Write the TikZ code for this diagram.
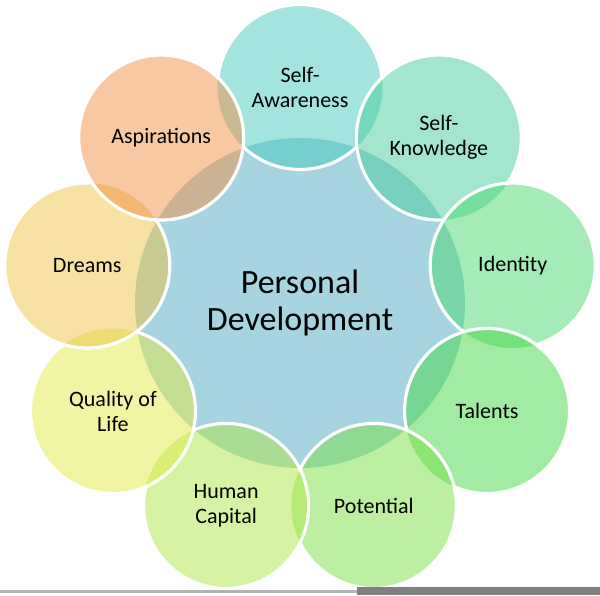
\documentclass[tikz,border=0pt]{standalone}
\usepackage{fontspec}
\setmainfont{Carlito}
\definecolor{pdBlue}{RGB}{166,212,225}
\definecolor{saCol}{RGB}{71,201,191}
\definecolor{skCol}{RGB}{71,205,155}
\definecolor{idCol}{RGB}{75,215,113}
\definecolor{taCol}{RGB}{69,215,69}
\definecolor{poCol}{RGB}{121,223,69}
\definecolor{hcCol}{RGB}{171,231,71}
\definecolor{qlCol}{RGB}{225,233,71}
\definecolor{drCol}{RGB}{239,195,71}
\definecolor{asCol}{RGB}{241,145,71}
\begin{document}
\begin{tikzpicture}[x=1pt, y=1pt,
    bubble/.style={circle, minimum size=165pt, inner sep=0pt, fill opacity=0.5, text opacity=1,
      align=center, font=\fontsize{22}{25}\selectfont},
    rim/.style={white, line width=3.2pt}]
    \useasboundingbox (0,0) rectangle (600,595);

    % 中心の円
    \node[circle, minimum size=330pt, inner sep=0pt, fill=pdBlue, align=center,
      font=\fontsize{34}{37}\selectfont] (pd) at (300,292) {Personal\\Development};

    % 周りの円
    \foreach \n/\a/\c/\t in {sa/90/saCol/{Self-\\Awareness}, sk/50/skCol/{Self-\\Knowledge},
        id/10/idCol/Identity, ta/-30/taCol/Talents, po/-70/poCol/Potential,
        hc/-110/hcCol/{Human\\Capital}, ql/-150/qlCol/{Quality of\\Life},
        dr/170/drCol/Dreams, as/130/asCol/Aspirations}
      \node[bubble, fill=\c] (\n) at ([shift={(\a:216)}]pd.center) {\t};

    % 白い縁取り
    \foreach \n/\m in {sk/id, id/ta, ta/po, po/hc, hc/ql, ql/dr, dr/as} {
      \begin{scope}[even odd rule]
        \clip (0,0) rectangle (600,595) (\m.center) circle[radius=82.5];
        \draw[rim] (\n.center) circle[radius=82.5];
      \end{scope}
    }
    \begin{scope}[even odd rule]
      \clip (0,0) rectangle (600,595) (sk.center) circle[radius=82.5]
        (as.center) circle[radius=82.5];
      \draw[rim] (sa.center) circle[radius=82.5];
    \end{scope}
    \draw[rim] (as.center) circle[radius=82.5];

    % 下の灰色の帯
    \fill[gray!60] (0,2) rectangle (357,5);
    \fill[gray] (357,0) rectangle (600,8);
\end{tikzpicture}
\end{document}
